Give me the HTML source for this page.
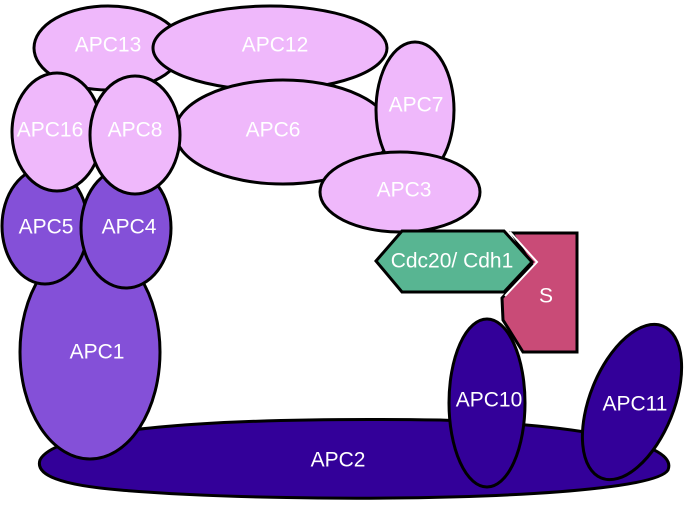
<!DOCTYPE html>
<html><head><style>body{margin:0;background:#fff}svg{display:block}text{font-family:"Liberation Sans",sans-serif;font-size:21px;fill:#fff;text-anchor:middle;dominant-baseline:central}</style></head><body>
<svg width="685" height="509" viewBox="0 0 685 509">
<g stroke="#000" stroke-width="3">
<path d="M40,460 C60,420 300,418 440,420 C560,424 680,440 668,470 C650,500 300,505 120,490 C60,485 35,475 40,460Z" fill="#330099"/>
<ellipse cx="90" cy="352" rx="70" ry="107" fill="#8450d8"/>
<ellipse cx="45" cy="226" rx="43" ry="58" fill="#8450d8"/>
<ellipse cx="126" cy="228" rx="45" ry="60" fill="#8450d8"/>
<ellipse cx="108" cy="48" rx="74" ry="42" fill="#efb8fb"/>
<ellipse cx="270" cy="48" rx="117" ry="42" fill="#efb8fb"/>
<ellipse cx="283" cy="132" rx="108" ry="52" fill="#efb8fb"/>
<ellipse cx="415" cy="110" rx="39" ry="68" fill="#efb8fb"/>
<ellipse cx="400" cy="192" rx="80" ry="40" fill="#efb8fb"/>
<ellipse cx="57" cy="132" rx="45" ry="59" fill="#efb8fb"/>
<ellipse cx="135" cy="135" rx="45" ry="59" fill="#efb8fb"/>
<polygon points="512,233 577,233 577,352 523,352 503,320 502,298 532,265" fill="#c94b77"/>
<polygon points="376,261 402,231 504,231 532,262 504,292 402,292" fill="#58b592"/>
<path d="M510,232 L537,262 L505,296" fill="none" stroke="#fff" stroke-width="2"/>
<ellipse cx="487" cy="403" rx="38" ry="84" fill="#330099"/>
<ellipse cx="632" cy="402" rx="42" ry="82" fill="#330099" transform="rotate(22 632 402)"/>
</g>
<text x="108" y="45">APC13</text>
<text x="275" y="45">APC12</text>
<text x="273" y="130">APC6</text>
<text x="416" y="105">APC7</text>
<text x="404" y="190">APC3</text>
<text x="50" y="130">APC16</text>
<text x="135" y="130">APC8</text>
<text x="46" y="227">APC5</text>
<text x="129" y="227">APC4</text>
<text x="97" y="352">APC1</text>
<text x="338" y="460">APC2</text>
<text x="452" y="261">Cdc20/ Cdh1</text>
<text x="546" y="296">S</text>
<text x="489" y="400">APC10</text>
<text x="635" y="404">APC11</text>
</svg>
</body></html>
